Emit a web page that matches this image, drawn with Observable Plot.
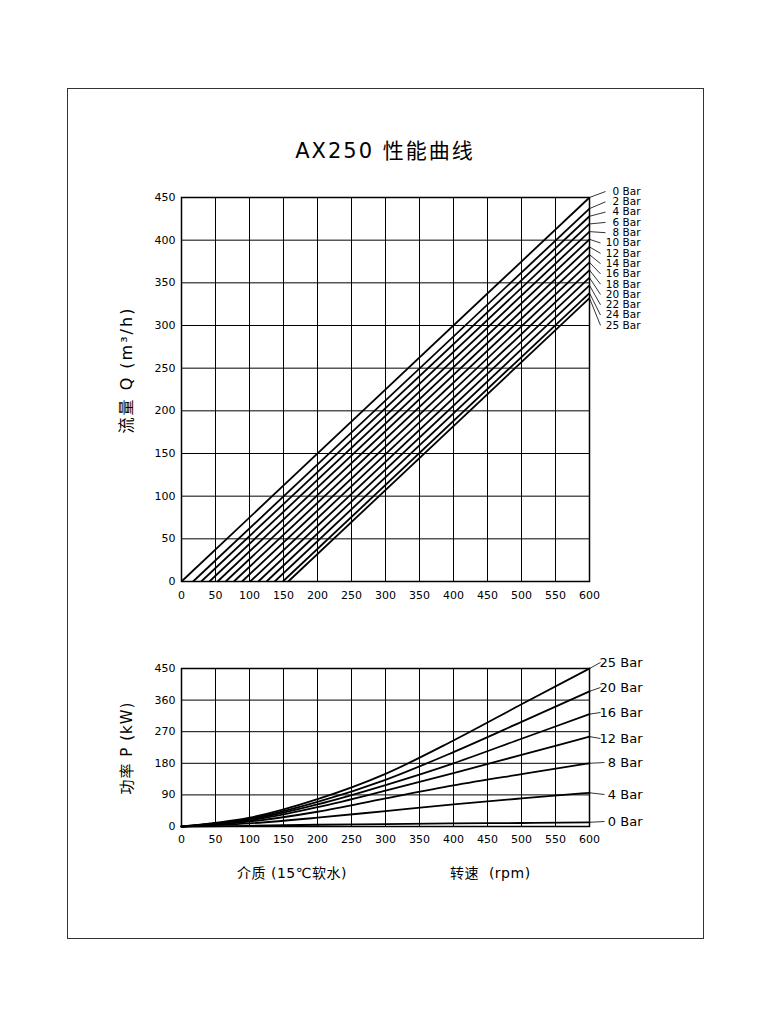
<!DOCTYPE html>
<html>
<head>
<meta charset="utf-8">
<script src="https://cdn.jsdelivr.net/npm/d3@7"></script>
<script src="https://cdn.jsdelivr.net/npm/@observablehq/plot@0.6"></script>
<style>
  html, body { margin: 0; padding: 0; background: #fff; }
  #page { position: relative; width: 768px; height: 1024px; font-family: "DejaVu Sans", "Noto Sans CJK SC", sans-serif; color: #000; }
  #border { position: absolute; left: 67px; top: 88px; width: 635px; height: 849px; border: 1px solid #333; }
  .abs { position: absolute; }
  #title { left: 0; width: 770px; top: 134px; text-align: center; font-size: 21px; letter-spacing: 2px; font-family: "DejaVu Sans", "Noto Sans CJK SC", sans-serif; }
  .ylab { font-size: 15px; letter-spacing: 1px; white-space: nowrap; transform-origin: center center; transform: translate(-50%, -50%) rotate(-90deg); font-family: "DejaVu Sans", "Noto Sans CJK SC", sans-serif; }
  .foot { font-size: 14px; letter-spacing: 0.5px; white-space: pre; font-family: "DejaVu Sans", "Noto Sans CJK SC", sans-serif; }
  svg text { font-family: "DejaVu Sans", "Noto Sans CJK SC", sans-serif; }
</style>
</head>
<body>
<div id="page">
  <div id="border"></div>
  <div id="title" class="abs">AX250 性能曲线</div>
  <div id="top" class="abs" style="left:141px; top:182px;"></div>
  <div id="bottom" class="abs" style="left:141px; top:648px;"></div>
  <div class="abs ylab" style="left:125px; top:370px; font-size:16px; letter-spacing:2px;">流量 Q (m³/h)</div>
  <div class="abs ylab" style="left:125px; top:748px;">功率 P (kW)</div>
  <div class="abs foot" style="left:237px; top:862px;">介质 (15℃软水)</div>
  <div class="abs foot" style="left:450px; top:862px;">转速  (rpm)</div>
</div>
<script>
// ---------- data ----------
const rpmTicks = [0, 50, 100, 150, 200, 250, 300, 350, 400, 450, 500, 550, 600];
const flowTicks = [0, 50, 100, 150, 200, 250, 300, 350, 400, 450];
const powerTicks = [0, 90, 180, 270, 360, 450];

// flow lines: pressure, rpm where Q = 0, Q at 600 rpm
const flowPressures = ["0 Bar", "2 Bar", "4 Bar", "6 Bar", "8 Bar", "10 Bar", "12 Bar", "14 Bar", "16 Bar", "18 Bar", "20 Bar", "22 Bar", "24 Bar", "25 Bar"];
const flowZeroRpm = [0, 17, 29, 41, 53, 65, 77, 89, 101, 113, 125, 137, 149, 157];
const flowAt600 = [450, 437, 428, 419, 410, 401, 392, 383, 374, 365, 356, 347, 338, 332];

// power curves
const powerRpm = [0, 100, 200, 300, 400, 500, 600];
const powerPressures = ["25 Bar", "20 Bar", "16 Bar", "12 Bar", "8 Bar", "4 Bar", "0 Bar"];
const power25 = [0, 25, 78, 150, 245, 348, 450];
const power20 = [0, 22, 70, 133, 212, 298, 385];
const power16 = [0, 20, 63, 118, 180, 250, 320];
const power12 = [0, 17, 55, 102, 152, 204, 256];
const power8 = [0, 14, 42, 80, 117, 149, 180];
const power4 = [0, 9, 25, 44, 63, 80, 96];
const power0 = [0, 2, 5, 7, 9, 10, 12];

// ---------- build ----------
const pxX = 408 / 600;          // px per rpm
const topPxY = 384 / 450;       // px per m3/h
const botPxY = 158 / 450;       // px per kW

const flowLines = flowPressures.map((p, i) => ({p, x1: flowZeroRpm[i], y1: 0, x2: 600, y2: flowAt600[i]}));
const flowLabels = flowLines.map((d, i) => {
  const ly = (581 - (191 + i * 10.3)) / topPxY;
  const endPx = d.p.length === 5 ? 605 : 600;
  return {...d, ly, lx: 600 + (endPx - 589) / pxX};
});

const powerSeries = [power25, power20, power16, power12, power8, power4, power0];
const powerData = powerSeries.flatMap((arr, j) => arr.map((v, k) => ({p: powerPressures[j], x: powerRpm[k], y: v})));
const powerLabelPx = [662, 687, 712, 738, 762, 794, 821];
const powerLabels = powerPressures.map((p, j) => {
  const endPx = p.length === 5 ? 604 : 600;
  return {p, y2: powerSeries[j][powerSeries[j].length - 1], ly: (826 - powerLabelPx[j]) / botPxY, lx: 600 + (endPx - 589) / pxX};
});

const fontStyle = {fontFamily: "DejaVu Sans, sans-serif", fontSize: "12px", background: "transparent", color: "#000", overflow: "visible"};

const topPlot = Plot.plot({
  width: 528, height: 429,
  marginLeft: 40, marginRight: 80, marginTop: 15, marginBottom: 30,
  style: fontStyle,
  x: {domain: [0, 600], nice: false},
  y: {domain: [0, 450], nice: false},
  marks: [
    Plot.gridX(rpmTicks, {stroke: "#000", strokeOpacity: 1, strokeWidth: 1}),
    Plot.gridY(flowTicks, {stroke: "#000", strokeOpacity: 1, strokeWidth: 1}),
    Plot.axisX(rpmTicks, {tickSize: 0, tickPadding: 10, label: null, fontSize: 11}),
    Plot.axisY(flowTicks, {tickSize: 0, tickPadding: 6, label: null, fontSize: 11}),
    Plot.link(flowLines, {x1: "x1", y1: "y1", x2: "x2", y2: "y2", stroke: "#000", strokeWidth: 1.8}),
    Plot.link(flowLabels, {x1: "x2", y1: "y2", x2: "lx", y2: "ly", stroke: "#000", strokeWidth: 0.8}),
    Plot.text(flowLabels, {x: 600 + (640 - 589) / pxX, y: "ly", text: "p", textAnchor: "end", fontSize: 10.5, lineAnchor: "middle"}),
    Plot.frame({stroke: "#000", strokeWidth: 1.5})
  ]
});
document.getElementById("top").appendChild(topPlot);

const botPlot = Plot.plot({
  width: 528, height: 208,
  marginLeft: 40, marginRight: 80, marginTop: 20, marginBottom: 30,
  style: fontStyle,
  x: {domain: [0, 600], nice: false},
  y: {domain: [0, 450], nice: false},
  marks: [
    Plot.gridX(rpmTicks, {stroke: "#000", strokeOpacity: 1, strokeWidth: 1}),
    Plot.gridY(powerTicks, {stroke: "#000", strokeOpacity: 1, strokeWidth: 1}),
    Plot.axisX(rpmTicks, {tickSize: 0, tickPadding: 9, label: null, fontSize: 11}),
    Plot.axisY(powerTicks, {tickSize: 0, tickPadding: 6, label: null, fontSize: 11}),
    Plot.line(powerData, {x: "x", y: "y", z: "p", stroke: "#000", strokeWidth: 1.8, curve: "monotone-x"}),
    Plot.link(powerLabels, {x1: 600, y1: "y2", x2: "lx", y2: "ly", stroke: "#000", strokeWidth: 0.8}),
    Plot.text(powerLabels, {x: 600 + (642 - 589) / pxX, y: "ly", text: "p", textAnchor: "end", fontSize: 13, lineAnchor: "middle"}),
    Plot.frame({stroke: "#000", strokeWidth: 1.5})
  ]
});
document.getElementById("bottom").appendChild(botPlot);
</script>
</body>
</html>
